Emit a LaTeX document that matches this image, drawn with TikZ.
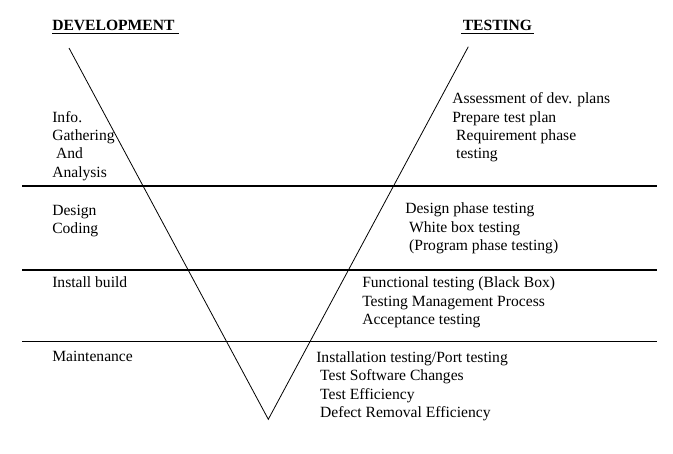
\documentclass[tikz,border=0pt]{standalone}
\usepackage{fontspec}
\setmainfont{Liberation Serif}
\begin{document}
\begin{tikzpicture}[x=0.75pt,y=-0.75pt]
\def\leftx{52}
\def\linel{22}
\def\liner{657}
\tikzset{lbl/.style={anchor=base west,inner sep=0pt,align=left,font=\fontsize{11.7}{13.7}\selectfont},
         head/.style={anchor=base west,inner sep=0pt,font=\fontsize{11.7}{13.7}\selectfont\bfseries}}
\useasboundingbox (0,0) rectangle (673,453);

% headings
\node[head] (dev) at (\leftx,31) {DEVELOPMENT};
\draw[line width=1.1pt] ([yshift=-2pt]dev.base west) -- ([xshift=3pt,yshift=-2pt]dev.base east);
\node[head] (test) at (462.5,31) {TESTING};
\draw[line width=1.1pt] ([xshift=-1pt,yshift=-2pt]test.base west) -- ([xshift=1pt,yshift=-2pt]test.base east);

% the V
\coordinate (vtopl) at (69,48);
\coordinate (vbot) at (268.3,419.3);
\coordinate (vtopr) at (468.3,46.7);
\draw[line width=0.6pt] (vtopl) -- (vbot) -- (vtopr);

% phase lines
\coordinate (la) at (\linel,186);   \coordinate (ra) at (\liner,186);
\coordinate (lb) at (\linel,270);   \coordinate (rb) at (\liner,270);
\coordinate (lc) at (\linel,341.5); \coordinate (rc) at (\liner,341.5);
\draw[line width=0.9pt] (la) -- (ra);
\draw[line width=0.9pt] (lb) -- (rb);
\draw[line width=0.9pt] (lc) -- (rc);

% development side (base = last line)
\node[lbl] (info) at (\leftx,177) {Info.\\Gathering\\\ And\\Analysis};
\node[lbl] (design) at (\leftx,233.3) {Design\\Coding};
\node[lbl] (install) at (\leftx,287.5) {Install build};
\node[lbl] (maint) at (\leftx,361.7) {Maintenance};

% testing side (base = last line)
\node[lbl] (assess) at (452,158.7) {Assessment of dev. plans\\Prepare test plan\\\ Requirement phase\\\ testing};
\node[lbl] (dtest) at (405,250.5) {Design phase testing\\\ White box testing\\\ (Program phase testing)};
\node[lbl] (ftest) at (362,324.5) {Functional testing (Black Box)\\Testing Management Process\\Acceptance testing};
\node[lbl] (itest) at (316,417.3) {Installation testing/Port testing\\\ Test Software Changes\\\ Test Efficiency\\\ Defect Removal Efficiency};

\end{tikzpicture}
\end{document}
